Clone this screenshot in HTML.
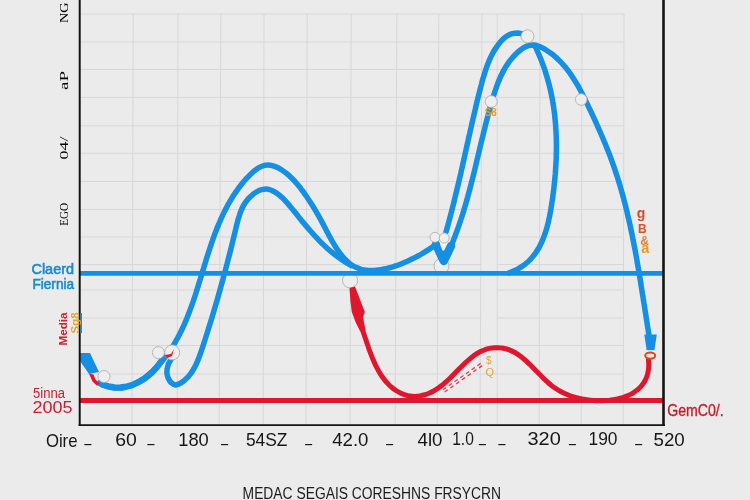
<!DOCTYPE html>
<html><head><meta charset="utf-8"><style>
html,body{margin:0;padding:0;background:#ebebeb;overflow:hidden;width:750px;height:500px;}
svg{display:block;}
text{font-family:'Liberation Sans',sans-serif;}
</style></head><body>
<svg width="750" height="500" viewBox="0 0 750 500">
<rect width="750" height="500" fill="#ebebeb"/>
<g stroke="#d7d7d7" stroke-width="1"><line x1="80" y1="14" x2="624" y2="14"/><line x1="80" y1="42" x2="624" y2="42"/><line x1="80" y1="69.5" x2="624" y2="69.5"/><line x1="80" y1="97.4" x2="624" y2="97.4"/><line x1="80" y1="125.8" x2="624" y2="125.8"/><line x1="80" y1="153.3" x2="481.5" y2="153.3"/><line x1="497.5" y1="153.3" x2="624" y2="153.3"/><line x1="80" y1="181.5" x2="481.5" y2="181.5"/><line x1="497.5" y1="181.5" x2="624" y2="181.5"/><line x1="80" y1="209.5" x2="481.5" y2="209.5"/><line x1="497.5" y1="209.5" x2="624" y2="209.5"/><line x1="80" y1="237" x2="481.5" y2="237"/><line x1="497.5" y1="237" x2="624" y2="237"/><line x1="80" y1="264.5" x2="481.5" y2="264.5"/><line x1="497.5" y1="264.5" x2="624" y2="264.5"/><line x1="80" y1="290" x2="481.5" y2="290"/><line x1="497.5" y1="290" x2="624" y2="290"/><line x1="80" y1="318" x2="481.5" y2="318"/><line x1="497.5" y1="318" x2="624" y2="318"/><line x1="80" y1="345.5" x2="624" y2="345.5"/><line x1="80" y1="374" x2="624" y2="374"/><line x1="80" y1="400.5" x2="624" y2="400.5"/><line x1="133.2" y1="14" x2="132" y2="425"/><line x1="178" y1="14" x2="177.2" y2="425"/><line x1="220.8" y1="14" x2="219.2" y2="425"/><line x1="264" y1="14" x2="263.2" y2="425"/><line x1="307.2" y1="14" x2="306" y2="425"/><line x1="351.2" y1="14" x2="350" y2="425"/><line x1="396.8" y1="14" x2="395.2" y2="425"/><line x1="438.8" y1="14" x2="437.2" y2="425"/><line x1="482" y1="14" x2="480" y2="425"/><line x1="497.2" y1="14" x2="497.2" y2="425"/><line x1="540" y1="14" x2="539.2" y2="425"/><line x1="582" y1="14" x2="581.2" y2="425"/><line x1="624" y1="14" x2="623.2" y2="425"/></g>
<circle cx="350.1" cy="280.3" r="7.6" fill="#eeeeee" stroke="#acacac" stroke-width="0.85"/>
<circle cx="441.5" cy="266" r="7.5" fill="#eeeeee" stroke="#acacac" stroke-width="0.85"/>
<line x1="80" y1="273.4" x2="664" y2="273.4" stroke="#148fe3" stroke-width="4.9"/>
<line x1="80" y1="400.5" x2="664" y2="400.5" stroke="#e0162c" stroke-width="5"/>
<path d="M362.5 330.0 C363.1 331.6 363.6 333.2 364.2 334.8 C364.7 336.3 365.2 337.9 365.8 339.5 C366.3 341.1 366.8 342.7 367.4 344.3 C367.9 345.9 368.5 347.5 369.0 349.1 C369.6 350.6 370.2 352.2 370.8 353.8 C371.4 355.4 372.0 356.9 372.6 358.5 C373.3 360.0 373.9 361.6 374.6 363.1 C375.3 364.6 376.0 366.1 376.8 367.6 C377.6 369.1 378.4 370.6 379.2 372.0 C380.1 373.5 381.0 374.9 381.9 376.3 C382.9 377.7 383.9 379.0 384.9 380.4 C386.0 381.7 387.1 382.9 388.3 384.1 C389.4 385.3 390.7 386.5 392.0 387.5 C393.3 388.6 394.6 389.6 396.0 390.5 C397.4 391.4 398.9 392.3 400.4 393.0 C401.9 393.7 403.5 394.4 405.1 394.9 C406.7 395.4 408.3 395.8 410.0 396.0 C411.6 396.3 413.3 396.4 415.0 396.4 C416.6 396.4 418.3 396.2 420.0 395.9 C421.6 395.6 423.3 395.2 424.9 394.7 C426.5 394.3 428.1 393.7 429.6 393.0 C431.1 392.3 432.6 391.5 434.1 390.7 C435.6 389.9 437.0 389.0 438.3 388.0 C439.7 387.1 441.1 386.0 442.4 385.0 C443.7 383.9 444.9 382.8 446.2 381.7 C447.4 380.6 448.7 379.4 449.9 378.3 C451.1 377.1 452.3 375.9 453.4 374.7 C454.6 373.5 455.8 372.3 457.0 371.1 C458.2 369.9 459.3 368.7 460.5 367.5 C461.7 366.4 462.9 365.2 464.1 364.0 C465.3 362.8 466.5 361.7 467.8 360.6 C469.0 359.5 470.3 358.4 471.6 357.3 C473.0 356.3 474.3 355.3 475.7 354.4 C477.1 353.4 478.5 352.6 480.0 351.8 C481.5 351.0 483.1 350.3 484.6 349.8 C486.2 349.2 487.8 348.7 489.5 348.4 C491.1 348.1 492.8 347.8 494.5 347.7 C496.1 347.6 497.8 347.6 499.5 347.8 C501.2 347.9 502.8 348.1 504.5 348.5 C506.1 348.8 507.7 349.3 509.3 349.9 C510.9 350.5 512.4 351.2 513.9 352.0 C515.4 352.8 516.8 353.7 518.2 354.6 C519.6 355.5 520.9 356.6 522.2 357.6 C523.5 358.7 524.8 359.8 526.1 360.9 C527.3 362.0 528.5 363.2 529.7 364.3 C530.9 365.5 532.1 366.7 533.3 367.9 C534.5 369.1 535.6 370.3 536.8 371.5 C538.0 372.7 539.1 373.9 540.3 375.1 C541.5 376.3 542.7 377.5 543.9 378.7 C545.1 379.8 546.3 381.0 547.6 382.1 C548.8 383.2 550.1 384.3 551.4 385.4 C552.7 386.4 554.1 387.4 555.5 388.3 C556.9 389.3 558.3 390.2 559.8 391.0 C561.2 391.8 562.7 392.6 564.2 393.3 C565.7 394.0 567.3 394.7 568.8 395.3 C570.4 395.9 572.0 396.4 573.6 396.9 C575.2 397.4 576.8 397.9 578.5 398.3 C580.1 398.7 581.7 399.0 583.4 399.3 C585.1 399.6 586.7 399.8 588.4 400.0 C590.0 400.3 591.7 400.4 593.4 400.5 C595.1 400.7 596.7 400.7 598.4 400.8 C600.1 400.8 601.8 400.8 603.5 400.7 C605.1 400.6 606.8 400.5 608.5 400.4 C610.2 400.2 611.8 400.0 613.5 399.7 C615.1 399.4 616.8 399.1 618.4 398.7 C620.0 398.3 621.7 397.9 623.3 397.4 C624.8 396.8 626.4 396.2 628.0 395.5 C629.5 394.9 631.0 394.1 632.4 393.3 C633.9 392.4 635.3 391.5 636.6 390.4 C637.9 389.4 639.2 388.3 640.3 387.1 C641.5 385.8 642.6 384.5 643.5 383.1 C644.4 381.8 645.2 380.3 645.9 378.7 C646.6 377.2 647.2 375.6 647.6 374.0 C648.0 372.4 648.3 370.7 648.5 369.0 C648.7 367.4 648.8 365.7 648.7 364.0 C648.7 362.3 648.5 360.7 648.4 359.0" fill="none" stroke="#e0162c" stroke-width="5" stroke-linecap="round"/>
<path d="M349.5 288 L355 286.5 L364.8 312 L363 317 L365.5 330 L360 331 L355.5 322 L353.5 316.5 L351.8 312 L350.3 300 Z" fill="#e0162c"/>
<line x1="443" y1="389.8" x2="480.6" y2="363.4" stroke="#e0162c" stroke-width="1.3" stroke-dasharray="4 3" opacity="0.8"/>
<line x1="444.6" y1="392" x2="482.2" y2="365.6" stroke="#e0162c" stroke-width="1.3" stroke-dasharray="4 3" opacity="0.8"/>
<path d="M100.0 383.2 C101.5 383.9 103.0 384.7 104.5 385.3 C106.1 386.0 107.7 386.5 109.3 386.9 C110.9 387.3 112.5 387.6 114.2 387.7 C115.8 387.9 117.5 387.9 119.2 387.8 C120.9 387.8 122.5 387.5 124.2 387.2 C125.8 386.9 127.4 386.5 129.0 386.0 C130.6 385.5 132.1 384.9 133.7 384.2 C135.2 383.5 136.7 382.8 138.1 381.9 C139.6 381.1 141.0 380.2 142.4 379.3 C143.8 378.4 145.1 377.4 146.4 376.4 C147.7 375.3 149.0 374.3 150.3 373.2 C151.5 372.1 152.8 370.9 154.0 369.8 C155.2 368.6 156.3 367.4 157.5 366.2 C158.6 365.0 159.7 363.8 160.8 362.5 C161.9 361.3 163.0 360.0 164.0 358.7 C165.1 357.4 166.1 356.0 167.1 354.7 C168.1 353.4 169.0 352.0 170.0 350.6 C170.9 349.2 171.8 347.8 172.7 346.4 C173.6 345.0 174.4 343.6 175.3 342.1 C176.1 340.7 176.9 339.2 177.7 337.8 C178.5 336.3 179.3 334.8 180.0 333.3 C180.8 331.9 181.5 330.4 182.2 328.8 C182.9 327.3 183.6 325.8 184.3 324.3 C185.0 322.8 185.6 321.2 186.3 319.7 C186.9 318.2 187.5 316.6 188.1 315.1 C188.7 313.5 189.3 311.9 189.9 310.4 C190.5 308.8 191.1 307.3 191.6 305.7 C192.2 304.1 192.8 302.5 193.3 301.0 C193.8 299.4 194.4 297.8 194.9 296.2 C195.4 294.6 195.9 293.0 196.4 291.5 C196.9 289.9 197.4 288.3 197.9 286.7 C198.4 285.1 198.9 283.5 199.4 281.9 C199.9 280.3 200.4 278.7 200.9 277.1 C201.4 275.5 201.9 273.9 202.3 272.3 C202.8 270.7 203.3 269.2 203.8 267.6 C204.3 266.0 204.8 264.4 205.3 262.8 C205.7 261.2 206.2 259.6 206.7 258.0 C207.2 256.4 207.7 254.8 208.2 253.2 C208.8 251.6 209.3 250.0 209.8 248.5 C210.3 246.9 210.8 245.3 211.4 243.7 C211.9 242.1 212.5 240.6 213.0 239.0 C213.6 237.4 214.1 235.9 214.7 234.3 C215.3 232.7 215.9 231.2 216.5 229.6 C217.1 228.1 217.7 226.5 218.4 225.0 C219.0 223.4 219.7 221.9 220.3 220.4 C221.0 218.8 221.7 217.3 222.4 215.8 C223.1 214.3 223.8 212.8 224.6 211.3 C225.3 209.8 226.1 208.3 226.9 206.9 C227.6 205.4 228.5 203.9 229.3 202.5 C230.1 201.0 231.0 199.6 231.8 198.2 C232.7 196.8 233.6 195.4 234.5 194.0 C235.5 192.6 236.4 191.2 237.4 189.8 C238.3 188.5 239.3 187.2 240.4 185.8 C241.4 184.5 242.4 183.2 243.5 181.9 C244.6 180.7 245.7 179.4 246.8 178.2 C247.9 176.9 249.1 175.7 250.2 174.6 C251.4 173.4 252.6 172.2 253.9 171.2 C255.2 170.1 256.6 169.1 258.0 168.2 C259.4 167.4 260.9 166.6 262.5 166.0 C264.0 165.5 265.7 165.1 267.3 165.1 C269.0 165.0 270.7 165.2 272.3 165.6 C273.9 166.0 275.5 166.6 277.0 167.3 C278.5 168.0 280.0 168.8 281.4 169.7 C282.8 170.6 284.2 171.6 285.5 172.6 C286.8 173.6 288.1 174.7 289.3 175.8 C290.5 176.9 291.7 178.1 292.9 179.3 C294.1 180.5 295.2 181.7 296.3 183.0 C297.4 184.2 298.4 185.5 299.5 186.8 C300.5 188.1 301.5 189.5 302.5 190.8 C303.5 192.1 304.5 193.5 305.4 194.9 C306.4 196.2 307.3 197.6 308.2 199.0 C309.2 200.4 310.1 201.8 311.0 203.2 C311.9 204.6 312.8 206.0 313.7 207.4 C314.5 208.8 315.4 210.3 316.2 211.7 C317.1 213.1 317.9 214.6 318.7 216.0 C319.5 217.5 320.3 219.0 321.1 220.4 C321.9 221.9 322.7 223.4 323.5 224.9 C324.2 226.3 325.0 227.8 325.8 229.3 C326.5 230.8 327.3 232.3 328.1 233.7 C328.9 235.2 329.6 236.7 330.5 238.1 C331.3 239.6 332.1 241.1 332.9 242.5 C333.8 243.9 334.6 245.4 335.5 246.8 C336.4 248.2 337.3 249.6 338.3 250.9 C339.2 252.3 340.2 253.6 341.3 254.9 C342.3 256.2 343.4 257.5 344.5 258.7 C345.7 259.9 346.9 261.1 348.2 262.2 C349.4 263.3 350.7 264.3 352.1 265.2 C353.5 266.1 355.0 266.9 356.5 267.6 C358.0 268.3 359.6 268.8 361.2 269.3 C362.8 269.7 364.5 270.0 366.1 270.2 C367.8 270.4 369.5 270.5 371.1 270.5 C372.8 270.5 374.5 270.5 376.1 270.3 C377.8 270.2 379.4 270.0 381.1 269.7 C382.7 269.4 384.4 269.1 386.0 268.7 C387.6 268.3 389.2 267.9 390.8 267.5 C392.4 267.0 394.0 266.5 395.6 265.9 C397.2 265.4 398.8 264.8 400.3 264.2 C401.9 263.6 403.4 263.0 404.9 262.3 C406.5 261.7 408.0 261.0 409.5 260.3 C411.0 259.5 412.5 258.8 414.0 258.1 C415.5 257.3 416.9 256.5 418.4 255.7 C419.9 254.9 421.3 254.1 422.7 253.2 C424.2 252.4 425.6 251.5 427.0 250.6 C428.4 249.7 429.8 248.8 431.2 247.9 C432.6 246.9 433.9 246.0 435.3 245.0" fill="none" stroke="#148fe3" stroke-width="5.5" stroke-linecap="round" stroke-linejoin="round"/>
<path d="M171.0 359.5 C170.2 361.0 169.2 362.3 168.5 363.9 C167.9 365.4 167.4 367.0 167.2 368.7 C166.9 370.3 166.8 372.0 167.0 373.7 C167.2 375.3 167.7 377.0 168.4 378.5 C169.1 380.0 170.0 381.5 171.2 382.6 C172.4 383.6 174.1 384.7 175.6 384.9 C177.1 385.0 178.8 384.1 180.3 383.3 C181.8 382.6 183.1 381.5 184.4 380.4 C185.6 379.3 186.8 378.2 188.0 376.9 C189.1 375.7 190.1 374.4 191.1 373.0 C192.1 371.7 192.9 370.2 193.8 368.8 C194.6 367.3 195.4 365.8 196.1 364.3 C196.8 362.8 197.5 361.3 198.1 359.7 C198.7 358.2 199.3 356.6 199.9 355.1 C200.5 353.5 201.0 351.9 201.6 350.3 C202.1 348.7 202.6 347.1 203.1 345.6 C203.6 344.0 204.2 342.4 204.7 340.8 C205.2 339.2 205.7 337.6 206.2 336.0 C206.7 334.4 207.2 332.8 207.7 331.2 C208.2 329.6 208.7 328.0 209.2 326.4 C209.7 324.8 210.2 323.2 210.7 321.7 C211.2 320.1 211.7 318.5 212.2 316.9 C212.6 315.3 213.1 313.6 213.6 312.0 C214.1 310.4 214.5 308.8 215.0 307.2 C215.5 305.6 216.0 304.0 216.4 302.4 C216.9 300.8 217.4 299.2 217.8 297.6 C218.3 296.0 218.7 294.4 219.2 292.8 C219.6 291.2 220.1 289.6 220.5 287.9 C221.0 286.3 221.4 284.7 221.9 283.1 C222.3 281.5 222.8 279.9 223.2 278.3 C223.6 276.7 224.1 275.0 224.5 273.4 C224.9 271.8 225.4 270.2 225.8 268.6 C226.2 267.0 226.6 265.4 227.1 263.7 C227.5 262.1 227.9 260.5 228.3 258.9 C228.7 257.3 229.2 255.6 229.6 254.0 C230.0 252.4 230.4 250.8 230.8 249.2 C231.2 247.5 231.6 245.9 232.0 244.3 C232.4 242.7 232.8 241.0 233.2 239.4 C233.6 237.8 234.0 236.2 234.4 234.5 C234.8 232.9 235.2 231.3 235.6 229.7 C236.0 228.0 236.3 226.4 236.7 224.8 C237.2 223.2 237.6 221.6 238.0 219.9 C238.5 218.3 238.9 216.7 239.5 215.1 C240.0 213.6 240.5 212.0 241.2 210.4 C241.8 208.9 242.5 207.4 243.3 205.9 C244.1 204.4 245.0 203.0 246.0 201.6 C247.0 200.3 248.0 199.0 249.2 197.8 C250.3 196.6 251.5 195.4 252.9 194.4 C254.2 193.3 255.5 192.4 257.0 191.6 C258.5 190.8 260.0 190.1 261.6 189.7 C263.2 189.3 265.0 189.0 266.6 189.1 C268.2 189.2 269.9 189.7 271.5 190.3 C273.0 190.8 274.5 191.7 275.9 192.6 C277.3 193.5 278.6 194.5 279.9 195.6 C281.2 196.7 282.4 197.9 283.6 199.0 C284.7 200.2 285.9 201.5 287.0 202.7 C288.1 204.0 289.2 205.2 290.2 206.5 C291.3 207.8 292.4 209.1 293.4 210.4 C294.5 211.7 295.5 213.0 296.6 214.3 C297.6 215.6 298.7 216.9 299.7 218.2 C300.8 219.5 301.8 220.8 302.9 222.1 C304.0 223.4 305.0 224.7 306.1 225.9 C307.2 227.2 308.3 228.5 309.4 229.8 C310.4 231.0 311.5 232.3 312.7 233.5 C313.8 234.8 314.9 236.0 316.0 237.2 C317.2 238.5 318.3 239.7 319.5 240.9 C320.7 242.1 321.9 243.2 323.1 244.4 C324.3 245.6 325.5 246.7 326.7 247.8 C328.0 248.9 329.2 250.0 330.5 251.1 C331.8 252.2 333.1 253.3 334.4 254.3 C335.7 255.3 337.0 256.3 338.4 257.3 C339.7 258.3 341.1 259.3 342.5 260.2 C343.9 261.1 345.3 262.0 346.7 262.9 C348.1 263.8 349.6 264.6 351.0 265.5" fill="none" stroke="#148fe3" stroke-width="5.5" stroke-linecap="round" stroke-linejoin="round"/>
<path d="M435.3 245.0 C438.2 250.5 441.1 256.0 444.0 261.5" fill="none" stroke="#148fe3" stroke-width="5.5" stroke-linecap="round" stroke-linejoin="round"/>
<path d="M444.0 261.5 C444.7 260.0 445.5 258.5 446.2 257.0 C446.9 255.5 447.6 253.9 448.3 252.4 C449.0 250.9 449.7 249.3 450.3 247.8 C451.0 246.3 451.6 244.7 452.3 243.2 C452.9 241.6 453.5 240.0 454.1 238.5 C454.7 236.9 455.3 235.4 455.9 233.8 C456.5 232.2 457.1 230.6 457.7 229.1 C458.2 227.5 458.8 225.9 459.3 224.3 C459.9 222.7 460.4 221.1 460.9 219.5 C461.4 217.9 462.0 216.4 462.5 214.8 C463.0 213.2 463.5 211.6 463.9 209.9 C464.4 208.3 464.9 206.7 465.4 205.1 C465.9 203.5 466.3 201.9 466.8 200.3 C467.2 198.7 467.7 197.1 468.1 195.4 C468.6 193.8 469.0 192.2 469.4 190.6 C469.9 189.0 470.3 187.3 470.7 185.7 C471.1 184.1 471.5 182.5 472.0 180.8 C472.4 179.2 472.8 177.6 473.2 176.0 C473.6 174.3 474.0 172.7 474.4 171.1 C474.8 169.5 475.2 167.8 475.6 166.2 C476.0 164.6 476.4 162.9 476.7 161.3 C477.1 159.7 477.5 158.0 477.9 156.4 C478.3 154.8 478.7 153.1 479.1 151.5 C479.5 149.9 479.9 148.3 480.2 146.6 C480.6 145.0 481.0 143.4 481.4 141.7 C481.8 140.1 482.2 138.5 482.6 136.8 C483.0 135.2 483.4 133.6 483.8 132.0 C484.2 130.3 484.6 128.7 485.0 127.1 C485.4 125.4 485.8 123.8 486.2 122.2 C486.7 120.6 487.1 118.9 487.5 117.3 C487.9 115.7 488.4 114.1 488.8 112.5 C489.2 110.8 489.7 109.2 490.1 107.6 C490.6 106.0 491.0 104.4 491.5 102.8 C492.0 101.2 492.4 99.5 492.9 97.9 C493.4 96.3 493.9 94.7 494.4 93.1 C494.9 91.5 495.4 89.9 496.0 88.4 C496.5 86.8 497.1 85.2 497.7 83.6 C498.3 82.1 498.9 80.5 499.6 79.0 C500.3 77.4 500.9 75.9 501.7 74.4 C502.4 72.9 503.2 71.4 504.0 69.9 C504.8 68.5 505.7 67.0 506.6 65.6 C507.5 64.2 508.4 62.8 509.4 61.4 C510.4 60.1 511.5 58.8 512.6 57.5 C513.7 56.3 514.8 55.0 516.0 53.9 C517.2 52.7 518.4 51.6 519.8 50.5 C521.1 49.5 522.4 48.5 523.9 47.6 C525.3 46.8 526.9 46.0 528.4 45.6 C530.0 45.1 531.8 44.9 533.4 44.9 C535.1 45.0 536.7 45.5 538.3 46.0 C539.9 46.5 541.4 47.3 542.9 48.1 C544.4 48.9 545.8 49.8 547.2 50.7 C548.6 51.6 550.0 52.5 551.3 53.6 C552.7 54.6 554.0 55.6 555.2 56.7 C556.5 57.8 557.7 59.0 558.9 60.1 C560.1 61.3 561.3 62.5 562.4 63.8 C563.5 65.0 564.6 66.3 565.7 67.6 C566.7 68.9 567.8 70.2 568.8 71.6 C569.8 72.9 570.7 74.3 571.7 75.7 C572.6 77.1 573.5 78.5 574.4 79.9 C575.3 81.3 576.2 82.7 577.0 84.2 C577.8 85.6 578.7 87.1 579.5 88.6 C580.3 90.1 581.1 91.5 581.8 93.0 C582.6 94.5 583.4 96.0 584.1 97.5 C584.9 99.0 585.6 100.5 586.3 102.0 C587.1 103.5 587.8 105.0 588.5 106.6 C589.2 108.1 589.9 109.6 590.7 111.1 C591.4 112.6 592.1 114.1 592.8 115.7 C593.5 117.2 594.2 118.7 594.9 120.2 C595.6 121.8 596.3 123.3 597.0 124.8 C597.7 126.3 598.3 127.9 599.0 129.4 C599.7 130.9 600.4 132.5 601.0 134.0 C601.7 135.6 602.4 137.1 603.0 138.6 C603.7 140.2 604.3 141.7 605.0 143.3 C605.6 144.8 606.2 146.4 606.8 147.9 C607.5 149.5 608.1 151.1 608.7 152.6 C609.3 154.2 609.9 155.8 610.5 157.3 C611.1 158.9 611.7 160.5 612.2 162.0 C612.8 163.6 613.4 165.2 613.9 166.8 C614.5 168.4 615.0 170.0 615.5 171.5 C616.1 173.1 616.6 174.7 617.1 176.3 C617.6 177.9 618.1 179.5 618.6 181.1 C619.1 182.7 619.6 184.3 620.1 185.9 C620.5 187.6 621.0 189.2 621.5 190.8 C621.9 192.4 622.4 194.0 622.8 195.6 C623.3 197.2 623.7 198.9 624.1 200.5 C624.5 202.1 625.0 203.7 625.4 205.4 C625.8 207.0 626.2 208.6 626.6 210.2 C627.0 211.9 627.4 213.5 627.7 215.1 C628.1 216.8 628.5 218.4 628.9 220.0 C629.2 221.7 629.6 223.3 630.0 224.9 C630.3 226.6 630.7 228.2 631.0 229.9 C631.4 231.5 631.7 233.1 632.1 234.8 C632.4 236.4 632.7 238.1 633.0 239.7 C633.4 241.4 633.7 243.0 634.0 244.7 C634.3 246.3 634.6 248.0 635.0 249.6 C635.3 251.3 635.6 252.9 635.9 254.6 C636.2 256.2 636.5 257.9 636.8 259.5 C637.1 261.2 637.3 262.8 637.6 264.5 C637.9 266.1 638.2 267.8 638.5 269.4 C638.8 271.1 639.0 272.7 639.3 274.4 C639.6 276.0 639.9 277.7 640.1 279.3 C640.4 281.0 640.7 282.6 640.9 284.3 C641.2 286.0 641.5 287.6 641.7 289.3 C642.0 290.9 642.3 292.6 642.5 294.2 C642.8 295.9 643.1 297.6 643.3 299.2 C643.6 300.9 643.8 302.5 644.1 304.2 C644.4 305.8 644.6 307.5 644.9 309.2 C645.1 310.8 645.4 312.5 645.7 314.1 C645.9 315.8 646.2 317.4 646.4 319.1 C646.7 320.7 647.0 322.4 647.2 324.1 C647.5 325.7 647.7 327.4 648.0 329.0 C648.3 330.7 648.5 332.3 648.8 334.0" fill="none" stroke="#148fe3" stroke-width="5.5" stroke-linecap="round" stroke-linejoin="round"/>
<path d="M446.0 232.0 C446.5 230.4 446.9 228.7 447.4 227.1 C447.8 225.5 448.3 223.8 448.7 222.2 C449.2 220.6 449.6 218.9 450.0 217.3 C450.5 215.7 450.9 214.0 451.3 212.4 C451.7 210.7 452.2 209.1 452.6 207.4 C453.0 205.8 453.4 204.2 453.8 202.5 C454.2 200.9 454.6 199.2 455.0 197.6 C455.4 195.9 455.8 194.3 456.2 192.6 C456.6 191.0 457.0 189.3 457.4 187.7 C457.8 186.0 458.2 184.4 458.6 182.7 C459.0 181.1 459.3 179.4 459.7 177.8 C460.1 176.1 460.5 174.5 460.9 172.8 C461.2 171.2 461.6 169.5 462.0 167.9 C462.4 166.2 462.7 164.6 463.1 162.9 C463.5 161.3 463.8 159.6 464.2 158.0 C464.6 156.3 464.9 154.7 465.3 153.0 C465.7 151.3 466.1 149.7 466.4 148.0 C466.8 146.4 467.2 144.7 467.5 143.1 C467.9 141.4 468.3 139.8 468.6 138.1 C469.0 136.5 469.4 134.8 469.8 133.1 C470.1 131.5 470.5 129.8 470.9 128.2 C471.3 126.5 471.6 124.9 472.0 123.2 C472.4 121.6 472.8 119.9 473.1 118.3 C473.5 116.6 473.9 115.0 474.3 113.3 C474.7 111.7 475.1 110.0 475.5 108.4 C475.8 106.7 476.2 105.1 476.6 103.4 C477.0 101.8 477.4 100.1 477.8 98.5 C478.2 96.8 478.6 95.2 479.0 93.6 C479.5 91.9 479.9 90.3 480.3 88.6 C480.7 87.0 481.1 85.3 481.6 83.7 C482.0 82.1 482.4 80.4 482.9 78.8 C483.4 77.2 483.9 75.5 484.4 73.9 C484.9 72.3 485.4 70.7 485.9 69.1 C486.5 67.5 487.1 65.9 487.7 64.3 C488.3 62.7 488.9 61.2 489.6 59.6 C490.3 58.1 491.0 56.5 491.8 55.0 C492.6 53.5 493.4 52.0 494.2 50.6 C495.1 49.1 496.0 47.7 497.0 46.3 C498.0 44.9 499.0 43.5 500.1 42.3 C501.2 41.0 502.3 39.7 503.6 38.6 C504.9 37.5 506.2 36.4 507.7 35.6 C509.1 34.7 510.7 34.0 512.3 33.6 C514.0 33.2 515.7 33.0 517.4 33.0 C519.0 33.1 520.7 33.5 522.4 33.9 C524.0 34.4 525.5 35.3 527.0 36.0" fill="none" stroke="#148fe3" stroke-width="5.5" stroke-linecap="round" stroke-linejoin="round"/>
<path d="M535.0 46.0 C535.7 47.5 536.5 49.0 537.1 50.6 C537.8 52.1 538.5 53.6 539.2 55.2 C539.8 56.7 540.5 58.3 541.1 59.8 C541.7 61.4 542.3 63.0 542.9 64.6 C543.5 66.1 544.0 67.7 544.6 69.3 C545.1 70.9 545.6 72.5 546.1 74.1 C546.6 75.7 547.1 77.3 547.6 79.0 C548.0 80.6 548.5 82.2 548.9 83.8 C549.3 85.4 549.7 87.1 550.1 88.7 C550.5 90.4 550.8 92.0 551.2 93.6 C551.5 95.3 551.9 96.9 552.2 98.6 C552.5 100.2 552.8 101.9 553.0 103.6 C553.3 105.2 553.6 106.9 553.8 108.5 C554.0 110.2 554.3 111.9 554.5 113.5 C554.7 115.2 554.8 116.9 555.0 118.6 C555.2 120.2 555.3 121.9 555.5 123.6 C555.6 125.3 555.7 126.9 555.8 128.6 C555.9 130.3 556.0 132.0 556.1 133.6 C556.2 135.3 556.2 137.0 556.3 138.7 C556.3 140.4 556.4 142.0 556.4 143.7 C556.4 145.4 556.4 147.1 556.4 148.8 C556.4 150.5 556.4 152.1 556.3 153.8 C556.3 155.5 556.2 157.2 556.2 158.9 C556.1 160.5 556.0 162.2 555.9 163.9 C555.8 165.6 555.7 167.3 555.6 168.9 C555.5 170.6 555.4 172.3 555.3 174.0 C555.1 175.6 555.0 177.3 554.8 179.0 C554.7 180.7 554.5 182.3 554.3 184.0 C554.1 185.7 554.0 187.4 553.8 189.0 C553.6 190.7 553.4 192.4 553.1 194.0 C552.9 195.7 552.7 197.4 552.5 199.0 C552.2 200.7 552.0 202.4 551.7 204.0 C551.5 205.7 551.2 207.3 550.9 209.0 C550.7 210.7 550.4 212.3 550.0 214.0 C549.7 215.6 549.4 217.3 549.0 218.9 C548.7 220.5 548.3 222.2 547.9 223.8 C547.5 225.4 547.1 227.1 546.6 228.7 C546.1 230.3 545.6 231.9 545.1 233.5 C544.5 235.1 544.0 236.7 543.3 238.2 C542.7 239.8 542.1 241.3 541.3 242.9 C540.6 244.4 539.9 245.9 539.1 247.4 C538.2 248.8 537.4 250.3 536.4 251.7 C535.5 253.1 534.5 254.4 533.5 255.8 C532.4 257.1 531.3 258.3 530.2 259.6 C529.0 260.8 527.8 261.9 526.5 263.0 C525.2 264.1 523.9 265.1 522.5 266.1 C521.1 267.0 519.7 267.9 518.2 268.8 C516.8 269.6 515.2 270.3 513.7 271.0 C512.2 271.7 510.6 272.2 509.0 272.8" fill="none" stroke="#148fe3" stroke-width="5.5" stroke-linecap="round" stroke-linejoin="round"/>
<path d="M100.0 383.2 C101.5 383.9 103.0 384.7 104.6 385.3 C106.2 385.9 107.8 386.4 109.5 386.7 C111.1 387.1 112.8 387.3 114.5 387.5 C116.2 387.6 117.9 387.6 119.6 387.6 C121.2 387.5 122.9 387.3 124.6 387.0 C126.3 386.7 127.9 386.3 129.5 385.8 C131.2 385.4 132.8 384.8 134.3 384.1 C135.9 383.5 137.4 382.8 138.9 382.0 C140.4 381.2 141.8 380.3 143.3 379.4 C144.7 378.5 146.1 377.5 147.4 376.4 C148.7 375.4 150.0 374.3 151.2 373.1 C152.5 372.0 153.7 370.8 154.8 369.5 C155.9 368.3 157.0 367.0 158.1 365.6 C159.1 364.3 160.0 362.9 161.0 361.5" fill="none" stroke="#148fe3" stroke-width="6.4" stroke-linecap="round"/>
<path d="M436 244.5 L443.8 261 L451 246" fill="none" stroke="#148fe3" stroke-width="8.5" stroke-linejoin="round" stroke-linecap="round"/>
<path d="M439.5 240.5 L448 241 L445 247.5 L442.8 251 L440.8 246.5 Z" fill="#f3f3f3"/>
<path d="M80 353 L90 353 L99 372 L89 374 L80 361 Z" fill="#148fe3"/>
<path d="M644.3 334.6 L656.8 334.6 L654.4 350.6 L646.7 350.6 Z" fill="#148fe3"/>
<rect x="646.5" y="350.4" width="8" height="2.6" fill="#f6f6f6"/>
<path d="M89 373.8 L93.5 374.6 L95.5 379.5 L99.5 383.5 L97 385.8 L92.5 381.5 Z" fill="#e0162c"/>
<circle cx="104" cy="376.5" r="6" fill="#eeeeee" stroke="#acacac" stroke-width="0.85"/>
<circle cx="158.4" cy="352.6" r="6" fill="#eeeeee" stroke="#acacac" stroke-width="0.85"/>
<circle cx="172.2" cy="352.4" r="7.5" fill="#eeeeee" stroke="#acacac" stroke-width="0.85"/>
<circle cx="435" cy="237.3" r="5" fill="#eeeeee" stroke="#acacac" stroke-width="0.85"/>
<circle cx="444.2" cy="238" r="5" fill="#eeeeee" stroke="#acacac" stroke-width="0.85"/>
<circle cx="491.2" cy="101.6" r="6" fill="#eeeeee" stroke="#acacac" stroke-width="0.85"/>
<circle cx="527.5" cy="36.3" r="6.5" fill="#eeeeee" stroke="#acacac" stroke-width="0.85"/>
<circle cx="581.2" cy="99.5" r="5.8" fill="#eeeeee" stroke="#acacac" stroke-width="0.85"/>
<ellipse cx="650.2" cy="355.6" rx="5" ry="3.2" fill="#f3e6e0" stroke="#d9461f" stroke-width="2"/>
<path d="M165 355 L171 354 L174 349 L172 356 L167 358 Z" fill="#e0162c"/>
<line x1="79.7" y1="0" x2="79.7" y2="426" stroke="#141414" stroke-width="2"/>
<line x1="663.5" y1="0" x2="663.5" y2="426" stroke="#141414" stroke-width="2.6"/>
<line x1="78.7" y1="425.2" x2="665" y2="425.2" stroke="#141414" stroke-width="1.8"/>
<line x1="81.2" y1="313" x2="81.2" y2="333" stroke="#148fe3" stroke-width="1.6"/>
<text x="45.900000000000006" y="446.6" font-size="17.7" fill="#161616" textLength="31.6" lengthAdjust="spacingAndGlyphs" >Oire</text>
<text x="115.2" y="446.1" font-size="17.7" fill="#161616" textLength="21.6" lengthAdjust="spacingAndGlyphs" >60</text>
<text x="178.2" y="445.9" font-size="17.7" fill="#161616" textLength="30.6" lengthAdjust="spacingAndGlyphs" >180</text>
<text x="245.89999999999998" y="445.9" font-size="17.7" fill="#161616" textLength="41.6" lengthAdjust="spacingAndGlyphs" >54SZ</text>
<text x="332.2" y="445.5" font-size="17.7" fill="#161616" textLength="36.300000000000004" lengthAdjust="spacingAndGlyphs" >42.0</text>
<text x="417.5" y="445.6" font-size="17.7" fill="#161616" textLength="25.0" lengthAdjust="spacingAndGlyphs" >4l0</text>
<text x="452.2" y="445.4" font-size="17.7" fill="#161616" textLength="21.6" lengthAdjust="spacingAndGlyphs" >1.0</text>
<text x="527.5" y="445.4" font-size="17.7" fill="#161616" textLength="33.3" lengthAdjust="spacingAndGlyphs" >320</text>
<text x="588.5" y="445.4" font-size="17.7" fill="#161616" textLength="29.0" lengthAdjust="spacingAndGlyphs" >190</text>
<text x="653.5" y="445.8" font-size="17.7" fill="#161616" textLength="31.3" lengthAdjust="spacingAndGlyphs" >520</text>
<text x="84.6" y="440.9" font-size="19" fill="#161616" textLength="6.8" lengthAdjust="spacingAndGlyphs" >_</text>
<text x="147.6" y="440.9" font-size="19" fill="#161616" textLength="6.8" lengthAdjust="spacingAndGlyphs" >_</text>
<text x="221.29999999999998" y="440.9" font-size="19" fill="#161616" textLength="6.8" lengthAdjust="spacingAndGlyphs" >_</text>
<text x="305.3" y="440.9" font-size="19" fill="#161616" textLength="6.8" lengthAdjust="spacingAndGlyphs" >_</text>
<text x="386.3" y="440.9" font-size="19" fill="#161616" textLength="6.8" lengthAdjust="spacingAndGlyphs" >_</text>
<text x="478.90000000000003" y="440.9" font-size="19" fill="#161616" textLength="6.8" lengthAdjust="spacingAndGlyphs" >_</text>
<text x="498.6" y="440.9" font-size="19" fill="#161616" textLength="6.8" lengthAdjust="spacingAndGlyphs" >_</text>
<text x="568.9" y="440.9" font-size="19" fill="#161616" textLength="6.8" lengthAdjust="spacingAndGlyphs" >_</text>
<text x="635.3000000000001" y="440.9" font-size="19" fill="#161616" textLength="6.8" lengthAdjust="spacingAndGlyphs" >_</text>
<text x="242.6" y="498.6" font-size="16.3" fill="#1c1c1c" textLength="258.5" lengthAdjust="spacingAndGlyphs" >MEDAC SEGAIS CORESHNS FRSYCRN</text>
<text x="31.5" y="273.5" font-size="14.5" fill="#1a8ccd" textLength="42.5" lengthAdjust="spacingAndGlyphs" stroke="#1a8ccd" stroke-width="0.6">Claerd</text>
<text x="32.5" y="288.5" font-size="14.5" fill="#1a8ccd" textLength="41.5" lengthAdjust="spacingAndGlyphs" stroke="#1a8ccd" stroke-width="0.6">Fiernia</text>
<text x="33" y="397.5" font-size="15.5" fill="#c81e2e" textLength="32" lengthAdjust="spacingAndGlyphs" >5inna</text>
<text x="32.5" y="413" font-size="16" fill="#c81e2e" textLength="40" lengthAdjust="spacingAndGlyphs" >2005</text>
<text x="667.2" y="415.5" font-size="16" fill="#c81c2a" textLength="56.5" lengthAdjust="spacingAndGlyphs" stroke="#c81c2a" stroke-width="0.35">GemC0/.</text>
<text style="font-family:'Liberation Serif',serif" transform="translate(63.8 12.7) rotate(-90)" x="0" y="0" text-anchor="middle" dominant-baseline="central" font-size="13.5" fill="#000" textLength="20.5" lengthAdjust="spacingAndGlyphs">NG</text>
<text style="font-family:'Liberation Serif',serif" transform="translate(63.8 80.5) rotate(-90)" x="0" y="0" text-anchor="middle" dominant-baseline="central" font-size="13.5" fill="#000" textLength="19" lengthAdjust="spacingAndGlyphs">aP</text>
<text style="font-family:'Liberation Serif',serif" transform="translate(63.8 148) rotate(-90)" x="0" y="0" text-anchor="middle" dominant-baseline="central" font-size="13.5" fill="#000" textLength="23" lengthAdjust="spacingAndGlyphs">04/</text>
<text style="font-family:'Liberation Serif',serif" transform="translate(63.8 214.3) rotate(-90)" x="0" y="0" text-anchor="middle" dominant-baseline="central" font-size="13.5" fill="#000" textLength="23" lengthAdjust="spacingAndGlyphs">EGO</text>
<text font-weight="bold" transform="translate(63 329) rotate(-90)" x="0" y="0" text-anchor="middle" dominant-baseline="central" font-size="11" fill="#d41c2c" textLength="33" lengthAdjust="spacingAndGlyphs">Media</text>
<text font-weight="bold" transform="translate(75 323) rotate(-90)" x="0" y="0" text-anchor="middle" dominant-baseline="central" font-size="10.5" fill="#e8a22a" textLength="21" lengthAdjust="spacingAndGlyphs">Sg8</text>
<text x="636.8" y="217.5" font-size="14" fill="#d64a2a" font-weight="bold" >g</text>
<text x="638" y="233" font-size="12" fill="#d8522c" font-weight="bold" >B</text>
<text x="640.3" y="244.8" font-size="12" fill="#e47e2a" font-weight="bold" >&amp;</text>
<text x="641.3" y="253.2" font-size="14.5" fill="#e8982a" font-weight="bold" >a</text>
<text x="484.8" y="115.8" font-size="11.5" fill="#eb9c1e" font-weight="bold" textLength="12" lengthAdjust="spacingAndGlyphs">S8</text>
<text x="486" y="364" font-size="10" fill="#e9a23a" font-weight="normal" >$</text>
<text x="485.5" y="376" font-size="11" fill="#e9a23a" font-weight="normal" >Q</text>
</svg>
</body></html>
